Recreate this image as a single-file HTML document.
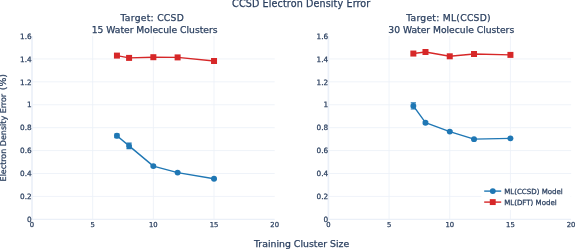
<!DOCTYPE html>
<html lang="en"><head><meta charset="utf-8"><title>CCSD Electron Density Error</title>
<style>html,body{margin:0;padding:0;background:#fff}svg{display:block}text{stroke:#2a3f5f;stroke-width:.25px}</style></head>
<body>
<svg width="575" height="249" viewBox="0 0 575 249" font-family='"DejaVu Sans", "Liberation Sans", sans-serif' fill="#2a3f5f">
<rect width="575" height="249" fill="#fff"/>
<line x1="92.67" x2="92.67" y1="35.99" y2="219.35" stroke="#EBF0F8" stroke-width="0.8"/>
<line x1="153.35" x2="153.35" y1="35.99" y2="219.35" stroke="#EBF0F8" stroke-width="0.8"/>
<line x1="214.03" x2="214.03" y1="35.99" y2="219.35" stroke="#EBF0F8" stroke-width="0.8"/>
<line x1="32.00" x2="274.70" y1="196.43" y2="196.43" stroke="#EBF0F8" stroke-width="0.8"/>
<line x1="32.00" x2="274.70" y1="173.51" y2="173.51" stroke="#EBF0F8" stroke-width="0.8"/>
<line x1="32.00" x2="274.70" y1="150.59" y2="150.59" stroke="#EBF0F8" stroke-width="0.8"/>
<line x1="32.00" x2="274.70" y1="127.67" y2="127.67" stroke="#EBF0F8" stroke-width="0.8"/>
<line x1="32.00" x2="274.70" y1="104.75" y2="104.75" stroke="#EBF0F8" stroke-width="0.8"/>
<line x1="32.00" x2="274.70" y1="81.83" y2="81.83" stroke="#EBF0F8" stroke-width="0.8"/>
<line x1="32.00" x2="274.70" y1="58.91" y2="58.91" stroke="#EBF0F8" stroke-width="0.8"/>
<line x1="32.00" x2="32.00" y1="35.99" y2="219.35" stroke="#EBF0F8" stroke-width="1.7"/>
<line x1="32.00" x2="274.70" y1="219.35" y2="219.35" stroke="#EBF0F8" stroke-width="1.3"/>
<text x="32.00" y="227.25" font-size="6.8" text-anchor="middle">0</text>
<text x="92.67" y="227.25" font-size="6.8" text-anchor="middle">5</text>
<text x="153.35" y="227.25" font-size="6.8" text-anchor="middle">10</text>
<text x="214.03" y="227.25" font-size="6.8" text-anchor="middle">15</text>
<text x="274.70" y="227.25" font-size="6.8" text-anchor="middle">20</text>
<text x="31.70" y="222.05" font-size="7.3" text-anchor="end">0</text>
<text x="31.70" y="199.13" font-size="7.3" text-anchor="end">0.2</text>
<text x="31.70" y="176.21" font-size="7.3" text-anchor="end">0.4</text>
<text x="31.70" y="153.29" font-size="7.3" text-anchor="end">0.6</text>
<text x="31.70" y="130.37" font-size="7.3" text-anchor="end">0.8</text>
<text x="31.70" y="107.45" font-size="7.3" text-anchor="end">1</text>
<text x="31.70" y="84.53" font-size="7.3" text-anchor="end">1.2</text>
<text x="31.70" y="61.61" font-size="7.3" text-anchor="end">1.4</text>
<text x="31.70" y="38.69" font-size="7.3" text-anchor="end">1.6</text>
<text x="152.10" y="21.1" font-size="9.2" text-anchor="middle" textLength="63.3">Target: CCSD</text>
<text x="154.60" y="33.3" font-size="9.2" text-anchor="middle">15 Water Molecule Clusters</text>
<line x1="389.07" x2="389.07" y1="35.99" y2="219.35" stroke="#EBF0F8" stroke-width="0.8"/>
<line x1="449.75" x2="449.75" y1="35.99" y2="219.35" stroke="#EBF0F8" stroke-width="0.8"/>
<line x1="510.43" x2="510.43" y1="35.99" y2="219.35" stroke="#EBF0F8" stroke-width="0.8"/>
<line x1="328.40" x2="571.10" y1="196.43" y2="196.43" stroke="#EBF0F8" stroke-width="0.8"/>
<line x1="328.40" x2="571.10" y1="173.51" y2="173.51" stroke="#EBF0F8" stroke-width="0.8"/>
<line x1="328.40" x2="571.10" y1="150.59" y2="150.59" stroke="#EBF0F8" stroke-width="0.8"/>
<line x1="328.40" x2="571.10" y1="127.67" y2="127.67" stroke="#EBF0F8" stroke-width="0.8"/>
<line x1="328.40" x2="571.10" y1="104.75" y2="104.75" stroke="#EBF0F8" stroke-width="0.8"/>
<line x1="328.40" x2="571.10" y1="81.83" y2="81.83" stroke="#EBF0F8" stroke-width="0.8"/>
<line x1="328.40" x2="571.10" y1="58.91" y2="58.91" stroke="#EBF0F8" stroke-width="0.8"/>
<line x1="328.40" x2="328.40" y1="35.99" y2="219.35" stroke="#EBF0F8" stroke-width="1.7"/>
<line x1="328.40" x2="571.10" y1="219.35" y2="219.35" stroke="#EBF0F8" stroke-width="1.3"/>
<text x="328.40" y="227.25" font-size="6.8" text-anchor="middle">0</text>
<text x="389.07" y="227.25" font-size="6.8" text-anchor="middle">5</text>
<text x="449.75" y="227.25" font-size="6.8" text-anchor="middle">10</text>
<text x="510.43" y="227.25" font-size="6.8" text-anchor="middle">15</text>
<text x="571.10" y="227.25" font-size="6.8" text-anchor="middle">20</text>
<text x="328.10" y="222.05" font-size="7.3" text-anchor="end">0</text>
<text x="328.10" y="199.13" font-size="7.3" text-anchor="end">0.2</text>
<text x="328.10" y="176.21" font-size="7.3" text-anchor="end">0.4</text>
<text x="328.10" y="153.29" font-size="7.3" text-anchor="end">0.6</text>
<text x="328.10" y="130.37" font-size="7.3" text-anchor="end">0.8</text>
<text x="328.10" y="107.45" font-size="7.3" text-anchor="end">1</text>
<text x="328.10" y="84.53" font-size="7.3" text-anchor="end">1.2</text>
<text x="328.10" y="61.61" font-size="7.3" text-anchor="end">1.4</text>
<text x="328.10" y="38.69" font-size="7.3" text-anchor="end">1.6</text>
<text x="448.40" y="21.1" font-size="9.2" text-anchor="middle" textLength="84.5">Target: ML(CCSD)</text>
<text x="451.25" y="33.3" font-size="9.2" text-anchor="middle">30 Water Molecule Clusters</text>
<polyline points="116.94,135.80 129.08,145.90 153.35,166.10 177.62,172.60 214.03,178.80" fill="none" stroke="#1f77b4" stroke-width="1.4" stroke-linejoin="round"/>
<path d="M116.94,133.97V137.63M114.34,133.97h5.2M114.34,137.63h5.2" stroke="#1f77b4" stroke-width="1.1" fill="none"/>
<circle cx="116.94" cy="135.80" r="2.95" fill="#1f77b4"/>
<path d="M129.08,143.15V148.65M126.48,143.15h5.2M126.48,148.65h5.2" stroke="#1f77b4" stroke-width="1.1" fill="none"/>
<circle cx="129.08" cy="145.90" r="2.95" fill="#1f77b4"/>
<path d="M153.35,165.18V167.02M150.75,165.18h5.2M150.75,167.02h5.2" stroke="#1f77b4" stroke-width="1.1" fill="none"/>
<circle cx="153.35" cy="166.10" r="2.95" fill="#1f77b4"/>
<path d="M177.62,171.91V173.29M175.02,171.91h5.2M175.02,173.29h5.2" stroke="#1f77b4" stroke-width="1.1" fill="none"/>
<circle cx="177.62" cy="172.60" r="2.95" fill="#1f77b4"/>
<path d="M214.03,178.23V179.37M211.43,178.23h5.2M211.43,179.37h5.2" stroke="#1f77b4" stroke-width="1.1" fill="none"/>
<circle cx="214.03" cy="178.80" r="2.95" fill="#1f77b4"/>
<polyline points="116.94,55.60 129.08,57.90 153.35,57.20 177.62,57.40 214.03,61.00" fill="none" stroke="#d62728" stroke-width="1.4" stroke-linejoin="round"/>
<rect x="113.94" y="52.60" width="6" height="6" fill="#d62728"/>
<rect x="126.08" y="54.90" width="6" height="6" fill="#d62728"/>
<rect x="150.35" y="54.20" width="6" height="6" fill="#d62728"/>
<rect x="174.62" y="54.40" width="6" height="6" fill="#d62728"/>
<rect x="211.03" y="58.00" width="6" height="6" fill="#d62728"/>
<polyline points="413.35,105.90 425.48,122.70 449.75,131.60 474.02,139.15 510.43,138.35" fill="none" stroke="#1f77b4" stroke-width="1.4" stroke-linejoin="round"/>
<path d="M413.35,102.85V108.95M410.75,102.85h5.2M410.75,108.95h5.2" stroke="#1f77b4" stroke-width="1.1" fill="none"/>
<circle cx="413.35" cy="105.90" r="2.95" fill="#1f77b4"/>
<path d="M425.48,121.55V123.85M422.88,121.55h5.2M422.88,123.85h5.2" stroke="#1f77b4" stroke-width="1.1" fill="none"/>
<circle cx="425.48" cy="122.70" r="2.95" fill="#1f77b4"/>
<path d="M449.75,130.80V132.40M447.15,130.80h5.2M447.15,132.40h5.2" stroke="#1f77b4" stroke-width="1.1" fill="none"/>
<circle cx="449.75" cy="131.60" r="2.95" fill="#1f77b4"/>
<path d="M474.02,138.58V139.72M471.42,138.58h5.2M471.42,139.72h5.2" stroke="#1f77b4" stroke-width="1.1" fill="none"/>
<circle cx="474.02" cy="139.15" r="2.95" fill="#1f77b4"/>
<path d="M510.43,137.78V138.92M507.82,137.78h5.2M507.82,138.92h5.2" stroke="#1f77b4" stroke-width="1.1" fill="none"/>
<circle cx="510.43" cy="138.35" r="2.95" fill="#1f77b4"/>
<polyline points="413.35,53.55 425.48,52.00 449.75,56.30 474.02,54.00 510.43,54.90" fill="none" stroke="#d62728" stroke-width="1.4" stroke-linejoin="round"/>
<rect x="410.35" y="50.55" width="6" height="6" fill="#d62728"/>
<rect x="422.48" y="49.00" width="6" height="6" fill="#d62728"/>
<rect x="446.75" y="53.30" width="6" height="6" fill="#d62728"/>
<rect x="471.02" y="51.00" width="6" height="6" fill="#d62728"/>
<rect x="507.43" y="51.90" width="6" height="6" fill="#d62728"/>
<rect x="481.4" y="183" width="89.2" height="27" fill="#fff"/>
<line x1="484.2" x2="501.2" y1="191.1" y2="191.1" stroke="#1f77b4" stroke-width="1.4"/><circle cx="492.8" cy="191.1" r="2.95" fill="#1f77b4"/>
<line x1="484.2" x2="501.2" y1="202.1" y2="202.1" stroke="#d62728" stroke-width="1.4"/><rect x="489.8" y="199.15" width="5.9" height="5.9" fill="#d62728"/>
<text x="504.2" y="193.8" font-size="7.05">ML(CCSD) Model</text>
<text x="504.2" y="204.8" font-size="7.05">ML(DFT) Model</text>
<text x="301.2" y="7.45" font-size="9.6" text-anchor="middle" textLength="138.2">CCSD Electron Density Error</text>
<text x="301.6" y="246.9" font-size="9.35" text-anchor="middle">Training Cluster Size</text>
<text transform="translate(5.9,181.4) rotate(-90)" font-size="7.97"><tspan x="0">Electron Density Error </tspan><tspan x="91.2" font-size="8.4" textLength="16.2" lengthAdjust="spacingAndGlyphs">(%)</tspan></text>
</svg>
</body></html>
